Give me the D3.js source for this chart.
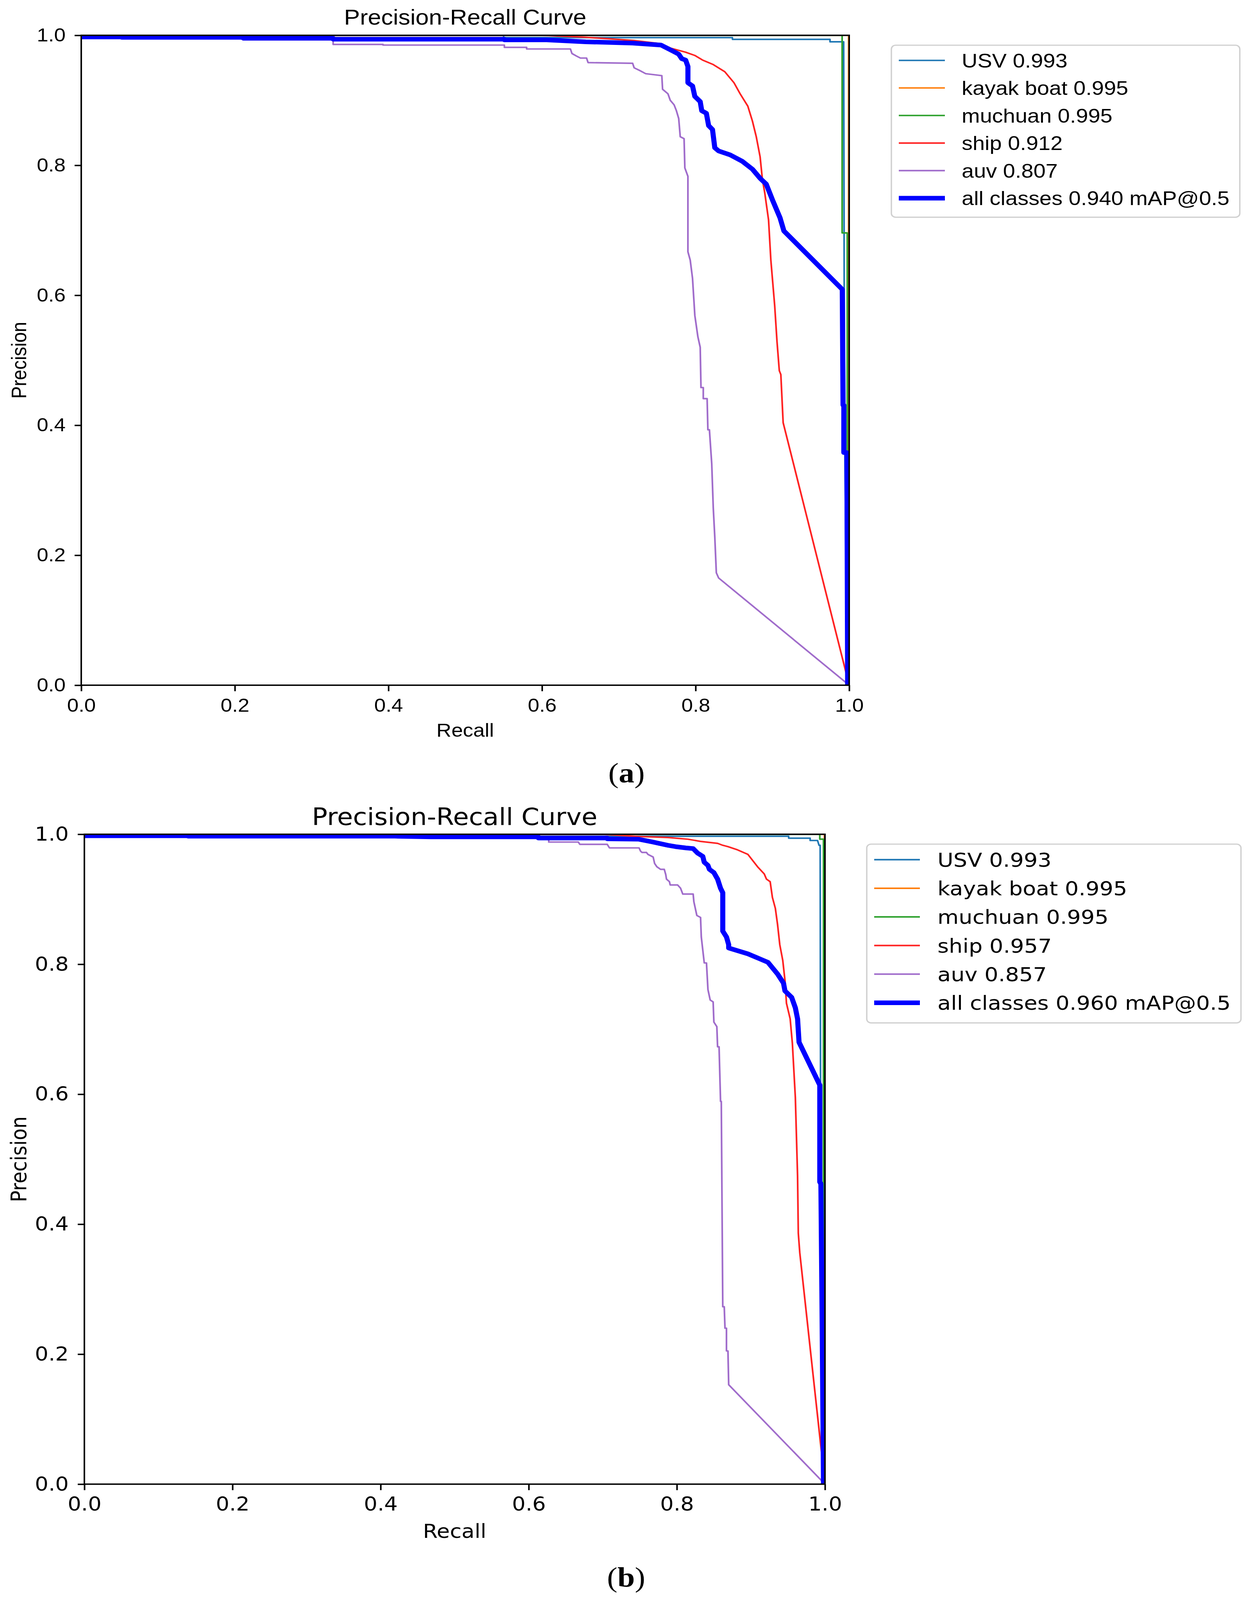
<!DOCTYPE html>
<html>
<head>
<meta charset="utf-8">
<script src="https://cdn.jsdelivr.net/npm/d3@7"></script>
<style>
  html, body { margin: 0; padding: 0; background: #fff; overflow: hidden; }
  svg { display: block; width: 100vw; height: 100vh; }
</style>
</head>
<body>
<svg id="chart"></svg>
<script>
// ---- data ----
const classNames = ["USV", "kayak boat", "muchuan", "ship", "auv"];
const apA = [0.993, 0.995, 0.995, 0.912, 0.807];
const mapA = 0.940;
const apB = [0.993, 0.995, 0.995, 0.957, 0.857];
const mapB = 0.960;
const recallTicks = [0, 0.2, 0.4, 0.6, 0.8, 1.0];
const precisionTicks = [0, 0.2, 0.4, 0.6, 0.8, 1.0];

// panel (a) curves: [recall, precision]
const usvA = [[0,1],[0.55,1],[0.55,0.9965],[0.848,0.9965],[0.848,0.9938],[0.975,0.9938],[0.975,0.990],
  [0.9928,0.990],[0.9935,0.62],[0.9945,0.35],[0.997,0]];
const kayakA = [[0,1],[0.9992,1],[0.9992,0]];
const muchuanA = [[0,1],[0.9908,1],[0.9908,0.696],[0.9975,0.696],[0.9975,0]];
const shipA = [[0,1],[0.60,1],[0.640,0.998],[0.657,0.997],[0.720,0.992],[0.755,0.987],[0.768,0.980],
  [0.787,0.974],[0.799,0.969],[0.809,0.962],[0.823,0.955],[0.838,0.944],[0.850,0.927],[0.858,0.910],
  [0.868,0.891],[0.874,0.868],[0.879,0.844],[0.884,0.813],[0.887,0.778],[0.890,0.758],[0.895,0.716],
  [0.898,0.654],[0.903,0.584],[0.906,0.529],[0.909,0.484],[0.911,0.478],[0.914,0.404],[1.0,0.0]];
const auvA = [[0,1],[0.211,1],[0.211,0.993],[0.328,0.993],[0.328,0.986],[0.393,0.986],[0.393,0.985],
  [0.551,0.985],[0.551,0.9815],[0.580,0.9815],[0.580,0.979],[0.637,0.979],[0.639,0.972],[0.645,0.968],
  [0.650,0.965],[0.658,0.965],[0.660,0.958],[0.718,0.957],[0.720,0.950],[0.727,0.946],[0.735,0.941],
  [0.756,0.938],[0.757,0.917],[0.764,0.910],[0.767,0.900],[0.772,0.893],[0.775,0.884],[0.778,0.872],
  [0.780,0.844],[0.785,0.841],[0.786,0.796],[0.790,0.783],[0.790,0.667],[0.793,0.654],[0.796,0.626],
  [0.799,0.569],[0.803,0.536],[0.806,0.520],[0.807,0.458],[0.810,0.458],[0.810,0.441],[0.815,0.441],
  [0.816,0.393],[0.818,0.393],[0.821,0.341],[0.823,0.273],[0.825,0.228],[0.827,0.173],[0.830,0.165],
  [1.0,0.0]];
const allA = [[0,0.9975],[0.053,0.9975],[0.053,0.9968],[0.211,0.9968],[0.211,0.9955],[0.328,0.9955],
  [0.328,0.994],[0.551,0.994],[0.551,0.993],[0.606,0.993],[0.657,0.990],[0.718,0.988],[0.755,0.985],
  [0.770,0.976],[0.778,0.971],[0.782,0.964],[0.787,0.962],[0.790,0.952],[0.790,0.927],[0.796,0.922],
  [0.799,0.906],[0.806,0.898],[0.808,0.884],[0.814,0.880],[0.817,0.861],[0.822,0.855],[0.825,0.827],
  [0.830,0.822],[0.845,0.816],[0.861,0.806],[0.874,0.794],[0.884,0.780],[0.892,0.771],[0.900,0.747],
  [0.910,0.719],[0.915,0.699],[0.991,0.609],[0.992,0.431],[0.993,0.431],[0.993,0.358],[0.997,0.358],
  [0.998,0.0]];

// panel (b) curves
const usvB = [[0,1],[0.45,1],[0.45,0.997],[0.951,0.997],[0.951,0.994],[0.980,0.994],[0.980,0.9904],
  [0.990,0.9904],[0.992,0.983],[0.9935,0.983],[0.9945,0.27],[0.996,0]];
const kayakB = [[0,1],[0.9992,1],[0.9992,0]];
const muchuanB = [[0,1],[0.993,1],[0.993,0.9925],[0.998,0.9925],[0.998,0]];
const shipB = [[0,1],[0.70,1],[0.748,0.9966],[0.788,0.995],[0.815,0.9924],[0.832,0.989],[0.855,0.986],
  [0.862,0.983],[0.869,0.981],[0.882,0.976],[0.896,0.969],[0.909,0.950],[0.918,0.939],[0.921,0.931],
  [0.926,0.927],[0.929,0.903],[0.933,0.886],[0.936,0.861],[0.939,0.830],[0.943,0.806],[0.946,0.775],
  [0.948,0.740],[0.953,0.716],[0.956,0.678],[0.960,0.595],[0.963,0.474],[0.964,0.386],[0.966,0.356],
  [1.0,0.0]];
const auvB = [[0,1],[0.419,1],[0.419,0.995],[0.613,0.995],[0.613,0.992],[0.627,0.992],[0.627,0.988],
  [0.667,0.988],[0.669,0.9845],[0.706,0.9845],[0.709,0.979],[0.749,0.979],[0.751,0.974],[0.753,0.972],
  [0.759,0.972],[0.761,0.969],[0.768,0.965],[0.770,0.955],[0.773,0.950],[0.778,0.946],[0.783,0.946],
  [0.785,0.938],[0.786,0.931],[0.790,0.927],[0.791,0.922],[0.801,0.922],[0.805,0.917],[0.808,0.908],
  [0.822,0.908],[0.823,0.896],[0.827,0.875],[0.832,0.872],[0.833,0.842],[0.837,0.802],[0.840,0.802],
  [0.842,0.761],[0.845,0.745],[0.849,0.742],[0.850,0.711],[0.854,0.704],[0.855,0.673],[0.857,0.673],
  [0.859,0.589],[0.860,0.589],[0.862,0.273],[0.864,0.273],[0.865,0.240],[0.867,0.240],[0.867,0.205],
  [0.869,0.205],[0.870,0.153],[1.0,0.0]];
const allB = [[0,0.9977],[0.14,0.9977],[0.14,0.997],[0.419,0.997],[0.468,0.996],[0.613,0.996],
  [0.613,0.9942],[0.706,0.9942],[0.706,0.993],[0.748,0.9924],[0.768,0.988],[0.788,0.983],[0.798,0.981],
  [0.812,0.979],[0.822,0.978],[0.828,0.971],[0.835,0.966],[0.837,0.957],[0.842,0.952],[0.844,0.946],
  [0.850,0.941],[0.855,0.931],[0.859,0.917],[0.862,0.910],[0.862,0.851],[0.867,0.842],[0.870,0.830],
  [0.870,0.825],[0.896,0.816],[0.923,0.803],[0.936,0.785],[0.944,0.771],[0.946,0.759],[0.955,0.749],
  [0.960,0.733],[0.963,0.716],[0.965,0.680],[0.993,0.614],[0.993,0.465],[0.9945,0.462],[0.996,0.275],
  [0.998,0.0]];

const classColors = ["#1f77b4", "#ff7f0e", "#2ca02c", "#ff2222", "#a06ccb"];
const allColor = "#0000ff";

// ---- layout ----
// drawn in a 3195x4530 coordinate space, stretched to whatever viewport we get
const W = 3195, H = 4530;
const svg = d3.select("#chart")
  .attr("viewBox", `0 0 ${W} ${H}`)
  .attr("preserveAspectRatio", "none");

const panels = [
  {
    id: "a", curves: [usvA, kayakA, muchuanA, shipA, auvA], all: allA, ap: apA, map: mapA,
    left: 208, top: 100, width: 1966, height: 1840,
    font: "'Liberation Sans', Arial, sans-serif",
    tickSize: 53, labelSize: 53, titleSize: 61, legendSize: 56,
    titleY: 70, recallY: 2086, precisionX: 67, tickPadX: 20, tickPadY: 23,
    legend: { x: 2282, y: 128, w: 892, h: 487, hx1: 2301, hx2: 2419, tx: 2462, row0: 171, step: 78 },
    tag: { x: 1604, y: 2215 }
  },
  {
    id: "b", curves: [usvB, kayakB, muchuanB, shipB, auvB], all: allB, ap: apB, map: mapB,
    left: 216, top: 2362, width: 1896, height: 1840,
    font: "'DejaVu Sans', sans-serif",
    tickSize: 54.5, labelSize: 54.5, titleSize: 66, legendSize: 55.8,
    titleY: 2336, recallY: 4354, precisionX: 67, tickPadX: 19, tickPadY: 23,
    legend: { x: 2219, y: 2390, w: 958, h: 506, hx1: 2238, hx2: 2355, tx: 2400, row0: 2434, step: 81 },
    tag: { x: 1603, y: 4492 }
  }
];

panels.forEach(p => drawPanel(p));

function drawPanel(p) {
  const x = d3.scaleLinear().domain([0, 1]).range([p.left, p.left + p.width]);
  const y = d3.scaleLinear().domain([0, 1]).range([p.top + p.height, p.top]);

  const g = svg.append("g").attr("class", "panel-" + p.id);

  g.append("clipPath").attr("id", "clip-" + p.id)
    .append("rect")
    .attr("x", p.left).attr("y", p.top)
    .attr("width", p.width).attr("height", p.height);

  const line = d3.line().x(d => x(d[0])).y(d => y(d[1]));
  const plot = g.append("g").attr("clip-path", `url(#clip-${p.id})`);

  p.curves.forEach((c, i) => {
    plot.append("path")
      .attr("d", line(c))
      .attr("fill", "none")
      .attr("stroke", classColors[i])
      .attr("stroke-width", 4.3)
      .attr("stroke-linejoin", "round");
  });
  plot.append("path")
    .attr("d", line(p.all))
    .attr("fill", "none")
    .attr("stroke", allColor)
    .attr("stroke-width", 13)
    .attr("stroke-linejoin", "round");

  // axes
  const xAxis = g.append("g")
    .attr("transform", `translate(0,${p.top + p.height})`)
    .call(d3.axisBottom(x).tickValues(recallTicks).tickFormat(d3.format(".1f"))
      .tickSize(17).tickPadding(p.tickPadX).tickSizeOuter(0));
  const yAxis = g.append("g")
    .attr("transform", `translate(${p.left},0)`)
    .call(d3.axisLeft(y).tickValues(precisionTicks).tickFormat(d3.format(".1f"))
      .tickSize(17).tickPadding(p.tickPadY).tickSizeOuter(0));
  [xAxis, yAxis].forEach(a => {
    a.select(".domain").remove();
    a.selectAll(".tick line").attr("stroke", "#000").attr("stroke-width", 4);
    a.selectAll(".tick text")
      .attr("fill", "#000")
      .style("font-family", p.font)
      .style("font-size", p.tickSize + "px");
  });

  // spines
  g.append("rect")
    .attr("x", p.left).attr("y", p.top)
    .attr("width", p.width).attr("height", p.height)
    .attr("fill", "none").attr("stroke", "#000").attr("stroke-width", 4);

  // title and labels
  g.append("text")
    .attr("x", p.left + p.width / 2).attr("y", p.titleY)
    .attr("text-anchor", "middle")
    .style("font-family", p.font).style("font-size", p.titleSize + "px")
    .text("Precision-Recall Curve");
  g.append("text")
    .attr("x", p.left + p.width / 2).attr("y", p.recallY)
    .attr("text-anchor", "middle")
    .style("font-family", p.font).style("font-size", p.labelSize + "px")
    .text("Recall");
  g.append("text")
    .attr("transform", `translate(${p.precisionX},${p.top + p.height / 2}) rotate(-90)`)
    .attr("text-anchor", "middle")
    .style("font-family", p.font).style("font-size", p.labelSize + "px")
    .text("Precision");

  // legend
  const L = p.legend;
  const lg = g.append("g").attr("class", "legend");
  lg.append("rect")
    .attr("x", L.x).attr("y", L.y).attr("width", L.w).attr("height", L.h)
    .attr("rx", 11).attr("ry", 11)
    .attr("fill", "#fff").attr("stroke", "#d0d0d0").attr("stroke-width", 3.5);

  const entries = classNames.map((n, i) => ({
    label: `${n} ${p.ap[i].toFixed(3)}`, color: classColors[i], w: 4.3
  }));
  entries.push({ label: `all classes ${p.map.toFixed(3)} mAP@0.5`, color: allColor, w: 13 });

  entries.forEach((e, i) => {
    const cy = L.row0 + i * L.step;
    lg.append("line")
      .attr("x1", L.hx1).attr("x2", L.hx2).attr("y1", cy).attr("y2", cy)
      .attr("stroke", e.color).attr("stroke-width", e.w);
    lg.append("text")
      .attr("x", L.tx).attr("y", cy + p.legendSize * 0.36)
      .style("font-family", p.font).style("font-size", p.legendSize + "px")
      .text(e.label);
  });

  // sub-figure tag
  const tag = g.append("text")
    .attr("x", p.tag.x).attr("y", p.tag.y)
    .attr("text-anchor", "middle")
    .style("font-family", "'Liberation Serif', 'Times New Roman', serif")
    .style("font-size", "80px");
  tag.append("tspan").text("(");
  tag.append("tspan").attr("font-weight", "bold").text(p.id);
  tag.append("tspan").text(")");
}
</script>
</body>
</html>
